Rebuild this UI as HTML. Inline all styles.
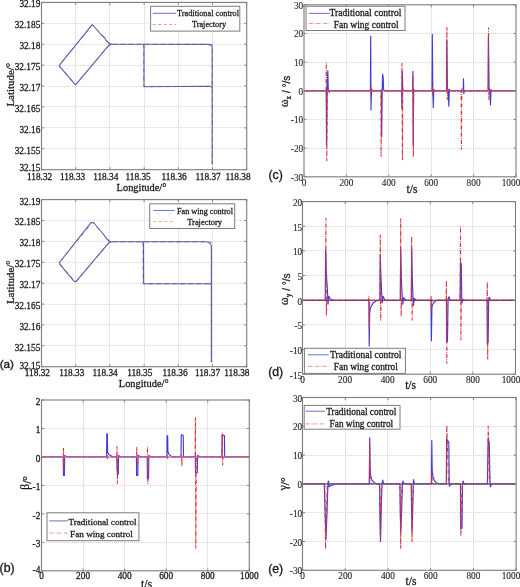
<!DOCTYPE html>
<html><head><meta charset="utf-8"><title>Figure</title>
<style>html,body{margin:0;padding:0;background:#fff;overflow:hidden;}svg{display:block;}</style>
</head><body>
<svg width="520" height="587" viewBox="0 0 520 587">
<rect width="520" height="587" fill="#fff"/>
<line x1="75.5" y1="3" x2="75.5" y2="169" stroke="#e6e6e6" stroke-width="1" />
<line x1="109.5" y1="3" x2="109.5" y2="169" stroke="#e6e6e6" stroke-width="1" />
<line x1="144.5" y1="3" x2="144.5" y2="169" stroke="#e6e6e6" stroke-width="1" />
<line x1="178.5" y1="3" x2="178.5" y2="169" stroke="#e6e6e6" stroke-width="1" />
<line x1="212.5" y1="3" x2="212.5" y2="169" stroke="#e6e6e6" stroke-width="1" />
<line x1="42" y1="23.5" x2="246" y2="23.5" stroke="#d6d6d6" stroke-width="1" stroke-dasharray="1 1" />
<line x1="42" y1="44.5" x2="246" y2="44.5" stroke="#d6d6d6" stroke-width="1" stroke-dasharray="1 1" />
<line x1="42" y1="65.5" x2="246" y2="65.5" stroke="#d6d6d6" stroke-width="1" stroke-dasharray="1 1" />
<line x1="42" y1="86.5" x2="246" y2="86.5" stroke="#d6d6d6" stroke-width="1" stroke-dasharray="1 1" />
<line x1="42" y1="106.5" x2="246" y2="106.5" stroke="#d6d6d6" stroke-width="1" stroke-dasharray="1 1" />
<line x1="42" y1="127.5" x2="246" y2="127.5" stroke="#d6d6d6" stroke-width="1" stroke-dasharray="1 1" />
<line x1="42" y1="148.5" x2="246" y2="148.5" stroke="#d6d6d6" stroke-width="1" stroke-dasharray="1 1" />
<polyline points="112,44.4 109.5,43.6 106,40.5 104.5,37.6 101,34.5 92.8,25 92,24.9 59.3,65.4 59.6,66.4 75.2,84.6 76,84.3 108.5,45.6 110.5,44.6 112,44.3 143.3,44.3 144,45 144,86.2 144.8,86.8 210.5,86.3 212.2,87.6" fill="none" stroke="#6a5aac" stroke-width="1.1" stroke-linejoin="round" />
<polyline points="143.5,44.3 208,44.4 211.6,45.5 212.2,47 212.2,164.5" fill="none" stroke="#6a5aac" stroke-width="1.1" stroke-linejoin="round" />
<polyline points="110,44.3 92.5,24.8 58.9,65.7 75.6,84.5 110,44.3 143.8,44.3 212.2,44.3 212.2,164" fill="none" stroke="#6a4a96" stroke-width="0.9" stroke-linejoin="round" stroke-dasharray="4 4" opacity="0.75"/>
<polyline points="143.8,44.3 143.8,86.4 212.2,86.4" fill="none" stroke="#6a4a96" stroke-width="0.9" stroke-linejoin="round" stroke-dasharray="4 4" opacity="0.75"/>
<rect x="41.5" y="2.4" width="205.2" height="167.3" fill="none" stroke="#7c7c7c" stroke-width="1.1"/>
<line x1="41.5" y1="169.7" x2="41.5" y2="167.2" stroke="#7c7c7c" stroke-width="0.9" />
<line x1="41.5" y1="2.4" x2="41.5" y2="4.9" stroke="#7c7c7c" stroke-width="0.9" />
<line x1="75.7" y1="169.7" x2="75.7" y2="167.2" stroke="#7c7c7c" stroke-width="0.9" />
<line x1="75.7" y1="2.4" x2="75.7" y2="4.9" stroke="#7c7c7c" stroke-width="0.9" />
<line x1="109.9" y1="169.7" x2="109.9" y2="167.2" stroke="#7c7c7c" stroke-width="0.9" />
<line x1="109.9" y1="2.4" x2="109.9" y2="4.9" stroke="#7c7c7c" stroke-width="0.9" />
<line x1="144.1" y1="169.7" x2="144.1" y2="167.2" stroke="#7c7c7c" stroke-width="0.9" />
<line x1="144.1" y1="2.4" x2="144.1" y2="4.9" stroke="#7c7c7c" stroke-width="0.9" />
<line x1="178.3" y1="169.7" x2="178.3" y2="167.2" stroke="#7c7c7c" stroke-width="0.9" />
<line x1="178.3" y1="2.4" x2="178.3" y2="4.9" stroke="#7c7c7c" stroke-width="0.9" />
<line x1="212.5" y1="169.7" x2="212.5" y2="167.2" stroke="#7c7c7c" stroke-width="0.9" />
<line x1="212.5" y1="2.4" x2="212.5" y2="4.9" stroke="#7c7c7c" stroke-width="0.9" />
<line x1="246.7" y1="169.7" x2="246.7" y2="167.2" stroke="#7c7c7c" stroke-width="0.9" />
<line x1="246.7" y1="2.4" x2="246.7" y2="4.9" stroke="#7c7c7c" stroke-width="0.9" />
<line x1="41.5" y1="2.4" x2="44" y2="2.4" stroke="#7c7c7c" stroke-width="0.9" />
<line x1="246.7" y1="2.4" x2="244.2" y2="2.4" stroke="#7c7c7c" stroke-width="0.9" />
<line x1="41.5" y1="23.31" x2="44" y2="23.31" stroke="#7c7c7c" stroke-width="0.9" />
<line x1="246.7" y1="23.31" x2="244.2" y2="23.31" stroke="#7c7c7c" stroke-width="0.9" />
<line x1="41.5" y1="44.22" x2="44" y2="44.22" stroke="#7c7c7c" stroke-width="0.9" />
<line x1="246.7" y1="44.22" x2="244.2" y2="44.22" stroke="#7c7c7c" stroke-width="0.9" />
<line x1="41.5" y1="65.14" x2="44" y2="65.14" stroke="#7c7c7c" stroke-width="0.9" />
<line x1="246.7" y1="65.14" x2="244.2" y2="65.14" stroke="#7c7c7c" stroke-width="0.9" />
<line x1="41.5" y1="86.05" x2="44" y2="86.05" stroke="#7c7c7c" stroke-width="0.9" />
<line x1="246.7" y1="86.05" x2="244.2" y2="86.05" stroke="#7c7c7c" stroke-width="0.9" />
<line x1="41.5" y1="106.96" x2="44" y2="106.96" stroke="#7c7c7c" stroke-width="0.9" />
<line x1="246.7" y1="106.96" x2="244.2" y2="106.96" stroke="#7c7c7c" stroke-width="0.9" />
<line x1="41.5" y1="127.88" x2="44" y2="127.88" stroke="#7c7c7c" stroke-width="0.9" />
<line x1="246.7" y1="127.88" x2="244.2" y2="127.88" stroke="#7c7c7c" stroke-width="0.9" />
<line x1="41.5" y1="148.79" x2="44" y2="148.79" stroke="#7c7c7c" stroke-width="0.9" />
<line x1="246.7" y1="148.79" x2="244.2" y2="148.79" stroke="#7c7c7c" stroke-width="0.9" />
<line x1="41.5" y1="169.7" x2="44" y2="169.7" stroke="#7c7c7c" stroke-width="0.9" />
<line x1="246.7" y1="169.7" x2="244.2" y2="169.7" stroke="#7c7c7c" stroke-width="0.9" />
<text x="40.3" y="7.4" font-size="9.3" font-family="'Liberation Serif','Times New Roman',serif" text-anchor="end" fill="#1a1a1a" stroke="#1a1a1a" stroke-width="0.28" >32.19</text>
<text x="40.3" y="28.31" font-size="9.3" font-family="'Liberation Serif','Times New Roman',serif" text-anchor="end" fill="#1a1a1a" stroke="#1a1a1a" stroke-width="0.28" >32.185</text>
<text x="40.3" y="49.22" font-size="9.3" font-family="'Liberation Serif','Times New Roman',serif" text-anchor="end" fill="#1a1a1a" stroke="#1a1a1a" stroke-width="0.28" >32.18</text>
<text x="40.3" y="70.14" font-size="9.3" font-family="'Liberation Serif','Times New Roman',serif" text-anchor="end" fill="#1a1a1a" stroke="#1a1a1a" stroke-width="0.28" >32.175</text>
<text x="40.3" y="91.05" font-size="9.3" font-family="'Liberation Serif','Times New Roman',serif" text-anchor="end" fill="#1a1a1a" stroke="#1a1a1a" stroke-width="0.28" >32.17</text>
<text x="40.3" y="111.96" font-size="9.3" font-family="'Liberation Serif','Times New Roman',serif" text-anchor="end" fill="#1a1a1a" stroke="#1a1a1a" stroke-width="0.28" >32.165</text>
<text x="40.3" y="132.88" font-size="9.3" font-family="'Liberation Serif','Times New Roman',serif" text-anchor="end" fill="#1a1a1a" stroke="#1a1a1a" stroke-width="0.28" >32.16</text>
<text x="40.3" y="153.79" font-size="9.3" font-family="'Liberation Serif','Times New Roman',serif" text-anchor="end" fill="#1a1a1a" stroke="#1a1a1a" stroke-width="0.28" >32.155</text>
<text x="40.3" y="170.7" font-size="9.3" font-family="'Liberation Serif','Times New Roman',serif" text-anchor="end" fill="#1a1a1a" stroke="#1a1a1a" stroke-width="0.28" >32.15</text>
<text x="39.6" y="179.9" font-size="9.3" font-family="'Liberation Serif','Times New Roman',serif" text-anchor="middle" fill="#1a1a1a" stroke="#1a1a1a" stroke-width="0.28" >118.32</text>
<text x="72.6" y="179.9" font-size="9.3" font-family="'Liberation Serif','Times New Roman',serif" text-anchor="middle" fill="#1a1a1a" stroke="#1a1a1a" stroke-width="0.28" >118.33</text>
<text x="105.8" y="179.9" font-size="9.3" font-family="'Liberation Serif','Times New Roman',serif" text-anchor="middle" fill="#1a1a1a" stroke="#1a1a1a" stroke-width="0.28" >118.34</text>
<text x="138.1" y="179.9" font-size="9.3" font-family="'Liberation Serif','Times New Roman',serif" text-anchor="middle" fill="#1a1a1a" stroke="#1a1a1a" stroke-width="0.28" >118.35</text>
<text x="174.1" y="179.9" font-size="9.3" font-family="'Liberation Serif','Times New Roman',serif" text-anchor="middle" fill="#1a1a1a" stroke="#1a1a1a" stroke-width="0.28" >118.36</text>
<text x="208.1" y="179.9" font-size="9.3" font-family="'Liberation Serif','Times New Roman',serif" text-anchor="middle" fill="#1a1a1a" stroke="#1a1a1a" stroke-width="0.28" >118.37</text>
<text x="238" y="179.9" font-size="9.3" font-family="'Liberation Serif','Times New Roman',serif" text-anchor="middle" fill="#1a1a1a" stroke="#1a1a1a" stroke-width="0.28" >118.38</text>
<text x="116.6" y="191.1" font-size="10.4" font-family="'Liberation Serif','Times New Roman',serif" text-anchor="start" fill="#1a1a1a" stroke="#1a1a1a" stroke-width="0.28" >Longitude/°</text>
<text x="14" y="84.7" font-size="10.9" font-family="'Liberation Serif','Times New Roman',serif" text-anchor="middle" fill="#1a1a1a" stroke="#1a1a1a" stroke-width="0.28" transform="rotate(-90 14 84.7)" >Latitude/°</text>
<rect x="150.6" y="6.3" width="89.2" height="24.8" fill="#fff" stroke="#7c7c7c" stroke-width="1.0"/>
<line x1="152.7" y1="13.3" x2="176.3" y2="13.3" stroke="#3c3cdc" stroke-width="1.1" opacity="0.7"/>
<line x1="152.7" y1="24.5" x2="176.3" y2="24.5" stroke="#dc2c3c" stroke-width="1.0" stroke-dasharray="3 2.5" opacity="0.5"/>
<text x="177" y="16.3" font-size="8.8" font-family="'Liberation Serif','Times New Roman',serif" text-anchor="start" fill="#1a1a1a" stroke="#1a1a1a" stroke-width="0.28" textLength="62" lengthAdjust="spacingAndGlyphs">Traditional control</text>
<text x="191.9" y="27.4" font-size="8.3" font-family="'Liberation Serif','Times New Roman',serif" text-anchor="start" fill="#1a1a1a" stroke="#1a1a1a" stroke-width="0.28" >Trajectory</text>
<line x1="75.5" y1="200" x2="75.5" y2="366" stroke="#e6e6e6" stroke-width="1" />
<line x1="109.5" y1="200" x2="109.5" y2="366" stroke="#e6e6e6" stroke-width="1" />
<line x1="144.5" y1="200" x2="144.5" y2="366" stroke="#e6e6e6" stroke-width="1" />
<line x1="178.5" y1="200" x2="178.5" y2="366" stroke="#e6e6e6" stroke-width="1" />
<line x1="212.5" y1="200" x2="212.5" y2="366" stroke="#e6e6e6" stroke-width="1" />
<line x1="42" y1="220.5" x2="246" y2="220.5" stroke="#d6d6d6" stroke-width="1" stroke-dasharray="1 1" />
<line x1="42" y1="241.5" x2="246" y2="241.5" stroke="#d6d6d6" stroke-width="1" stroke-dasharray="1 1" />
<line x1="42" y1="262.5" x2="246" y2="262.5" stroke="#d6d6d6" stroke-width="1" stroke-dasharray="1 1" />
<line x1="42" y1="283.5" x2="246" y2="283.5" stroke="#d6d6d6" stroke-width="1" stroke-dasharray="1 1" />
<line x1="42" y1="304.5" x2="246" y2="304.5" stroke="#d6d6d6" stroke-width="1" stroke-dasharray="1 1" />
<line x1="42" y1="324.5" x2="246" y2="324.5" stroke="#d6d6d6" stroke-width="1" stroke-dasharray="1 1" />
<line x1="42" y1="345.5" x2="246" y2="345.5" stroke="#d6d6d6" stroke-width="1" stroke-dasharray="1 1" />
<polyline points="112,241.9 109.5,241.3 107,239.3 104,235 94,223 92.5,222.3 91,222.7 60.6,261 59.6,262.1 60,264.3 73.5,280.7 75.2,281.7 76.8,280.7 108.5,243.1 110.5,242 112,241.8 142.4,241.8 143.4,243 143.6,282.8 144.6,283.8 210.5,283.8 211.4,285.3" fill="none" stroke="#6a5aac" stroke-width="1.1" stroke-linejoin="round" />
<polyline points="142.5,241.8 206.5,241.8 209.5,243 211.4,245.5 211.4,362.5" fill="none" stroke="#6a5aac" stroke-width="1.1" stroke-linejoin="round" />
<polyline points="110,241.8 92.5,222.3 58.9,263.2 75.6,282 110,241.8 143.8,241.8 211.3,241.8 211.3,361.5" fill="none" stroke="#6a4a96" stroke-width="0.9" stroke-linejoin="round" stroke-dasharray="4 4" opacity="0.75"/>
<polyline points="143,241.8 143,283.9 211.4,283.9" fill="none" stroke="#6a4a96" stroke-width="0.9" stroke-linejoin="round" stroke-dasharray="4 4" opacity="0.75"/>
<rect x="41.5" y="199.6" width="205.2" height="167.1" fill="none" stroke="#7c7c7c" stroke-width="1.1"/>
<line x1="41.5" y1="366.7" x2="41.5" y2="364.2" stroke="#7c7c7c" stroke-width="0.9" />
<line x1="41.5" y1="199.6" x2="41.5" y2="202.1" stroke="#7c7c7c" stroke-width="0.9" />
<line x1="75.7" y1="366.7" x2="75.7" y2="364.2" stroke="#7c7c7c" stroke-width="0.9" />
<line x1="75.7" y1="199.6" x2="75.7" y2="202.1" stroke="#7c7c7c" stroke-width="0.9" />
<line x1="109.9" y1="366.7" x2="109.9" y2="364.2" stroke="#7c7c7c" stroke-width="0.9" />
<line x1="109.9" y1="199.6" x2="109.9" y2="202.1" stroke="#7c7c7c" stroke-width="0.9" />
<line x1="144.1" y1="366.7" x2="144.1" y2="364.2" stroke="#7c7c7c" stroke-width="0.9" />
<line x1="144.1" y1="199.6" x2="144.1" y2="202.1" stroke="#7c7c7c" stroke-width="0.9" />
<line x1="178.3" y1="366.7" x2="178.3" y2="364.2" stroke="#7c7c7c" stroke-width="0.9" />
<line x1="178.3" y1="199.6" x2="178.3" y2="202.1" stroke="#7c7c7c" stroke-width="0.9" />
<line x1="212.5" y1="366.7" x2="212.5" y2="364.2" stroke="#7c7c7c" stroke-width="0.9" />
<line x1="212.5" y1="199.6" x2="212.5" y2="202.1" stroke="#7c7c7c" stroke-width="0.9" />
<line x1="246.7" y1="366.7" x2="246.7" y2="364.2" stroke="#7c7c7c" stroke-width="0.9" />
<line x1="246.7" y1="199.6" x2="246.7" y2="202.1" stroke="#7c7c7c" stroke-width="0.9" />
<line x1="41.5" y1="199.6" x2="44" y2="199.6" stroke="#7c7c7c" stroke-width="0.9" />
<line x1="246.7" y1="199.6" x2="244.2" y2="199.6" stroke="#7c7c7c" stroke-width="0.9" />
<line x1="41.5" y1="220.49" x2="44" y2="220.49" stroke="#7c7c7c" stroke-width="0.9" />
<line x1="246.7" y1="220.49" x2="244.2" y2="220.49" stroke="#7c7c7c" stroke-width="0.9" />
<line x1="41.5" y1="241.38" x2="44" y2="241.38" stroke="#7c7c7c" stroke-width="0.9" />
<line x1="246.7" y1="241.38" x2="244.2" y2="241.38" stroke="#7c7c7c" stroke-width="0.9" />
<line x1="41.5" y1="262.26" x2="44" y2="262.26" stroke="#7c7c7c" stroke-width="0.9" />
<line x1="246.7" y1="262.26" x2="244.2" y2="262.26" stroke="#7c7c7c" stroke-width="0.9" />
<line x1="41.5" y1="283.15" x2="44" y2="283.15" stroke="#7c7c7c" stroke-width="0.9" />
<line x1="246.7" y1="283.15" x2="244.2" y2="283.15" stroke="#7c7c7c" stroke-width="0.9" />
<line x1="41.5" y1="304.04" x2="44" y2="304.04" stroke="#7c7c7c" stroke-width="0.9" />
<line x1="246.7" y1="304.04" x2="244.2" y2="304.04" stroke="#7c7c7c" stroke-width="0.9" />
<line x1="41.5" y1="324.92" x2="44" y2="324.92" stroke="#7c7c7c" stroke-width="0.9" />
<line x1="246.7" y1="324.92" x2="244.2" y2="324.92" stroke="#7c7c7c" stroke-width="0.9" />
<line x1="41.5" y1="345.81" x2="44" y2="345.81" stroke="#7c7c7c" stroke-width="0.9" />
<line x1="246.7" y1="345.81" x2="244.2" y2="345.81" stroke="#7c7c7c" stroke-width="0.9" />
<line x1="41.5" y1="366.7" x2="44" y2="366.7" stroke="#7c7c7c" stroke-width="0.9" />
<line x1="246.7" y1="366.7" x2="244.2" y2="366.7" stroke="#7c7c7c" stroke-width="0.9" />
<text x="40.3" y="204.6" font-size="9.3" font-family="'Liberation Serif','Times New Roman',serif" text-anchor="end" fill="#1a1a1a" stroke="#1a1a1a" stroke-width="0.28" >32.19</text>
<text x="40.3" y="225.49" font-size="9.3" font-family="'Liberation Serif','Times New Roman',serif" text-anchor="end" fill="#1a1a1a" stroke="#1a1a1a" stroke-width="0.28" >32.185</text>
<text x="40.3" y="246.38" font-size="9.3" font-family="'Liberation Serif','Times New Roman',serif" text-anchor="end" fill="#1a1a1a" stroke="#1a1a1a" stroke-width="0.28" >32.18</text>
<text x="40.3" y="267.26" font-size="9.3" font-family="'Liberation Serif','Times New Roman',serif" text-anchor="end" fill="#1a1a1a" stroke="#1a1a1a" stroke-width="0.28" >32.175</text>
<text x="40.3" y="288.15" font-size="9.3" font-family="'Liberation Serif','Times New Roman',serif" text-anchor="end" fill="#1a1a1a" stroke="#1a1a1a" stroke-width="0.28" >32.17</text>
<text x="40.3" y="309.04" font-size="9.3" font-family="'Liberation Serif','Times New Roman',serif" text-anchor="end" fill="#1a1a1a" stroke="#1a1a1a" stroke-width="0.28" >32.165</text>
<text x="40.3" y="329.92" font-size="9.3" font-family="'Liberation Serif','Times New Roman',serif" text-anchor="end" fill="#1a1a1a" stroke="#1a1a1a" stroke-width="0.28" >32.16</text>
<text x="40.3" y="350.81" font-size="9.3" font-family="'Liberation Serif','Times New Roman',serif" text-anchor="end" fill="#1a1a1a" stroke="#1a1a1a" stroke-width="0.28" >32.155</text>
<text x="40.3" y="368.7" font-size="9.3" font-family="'Liberation Serif','Times New Roman',serif" text-anchor="end" fill="#1a1a1a" stroke="#1a1a1a" stroke-width="0.28" >32.15</text>
<text x="37.4" y="376.2" font-size="9.3" font-family="'Liberation Serif','Times New Roman',serif" text-anchor="middle" fill="#1a1a1a" stroke="#1a1a1a" stroke-width="0.28" >118.32</text>
<text x="71.8" y="376.2" font-size="9.3" font-family="'Liberation Serif','Times New Roman',serif" text-anchor="middle" fill="#1a1a1a" stroke="#1a1a1a" stroke-width="0.28" >118.33</text>
<text x="105.1" y="376.2" font-size="9.3" font-family="'Liberation Serif','Times New Roman',serif" text-anchor="middle" fill="#1a1a1a" stroke="#1a1a1a" stroke-width="0.28" >118.34</text>
<text x="139.8" y="376.2" font-size="9.3" font-family="'Liberation Serif','Times New Roman',serif" text-anchor="middle" fill="#1a1a1a" stroke="#1a1a1a" stroke-width="0.28" >118.35</text>
<text x="175" y="376.2" font-size="9.3" font-family="'Liberation Serif','Times New Roman',serif" text-anchor="middle" fill="#1a1a1a" stroke="#1a1a1a" stroke-width="0.28" >118.36</text>
<text x="207.5" y="376.2" font-size="9.3" font-family="'Liberation Serif','Times New Roman',serif" text-anchor="middle" fill="#1a1a1a" stroke="#1a1a1a" stroke-width="0.28" >118.37</text>
<text x="236.9" y="376.2" font-size="9.3" font-family="'Liberation Serif','Times New Roman',serif" text-anchor="middle" fill="#1a1a1a" stroke="#1a1a1a" stroke-width="0.28" >118.38</text>
<text x="118.8" y="386.5" font-size="10.4" font-family="'Liberation Serif','Times New Roman',serif" text-anchor="start" fill="#1a1a1a" stroke="#1a1a1a" stroke-width="0.28" >Longitude/°</text>
<text x="14" y="282.2" font-size="10.9" font-family="'Liberation Serif','Times New Roman',serif" text-anchor="middle" fill="#1a1a1a" stroke="#1a1a1a" stroke-width="0.28" transform="rotate(-90 14 282.2)" >Latitude/°</text>
<rect x="149.7" y="203.8" width="85" height="24.7" fill="#fff" stroke="#7c7c7c" stroke-width="1.0"/>
<line x1="153.4" y1="210.5" x2="174.6" y2="210.5" stroke="#3c3cdc" stroke-width="1.1" opacity="0.7"/>
<line x1="153.4" y1="221.5" x2="174.6" y2="221.5" stroke="#e08040" stroke-width="1.0" stroke-dasharray="3 2.5" opacity="0.6"/>
<text x="177" y="213.7" font-size="8.8" font-family="'Liberation Serif','Times New Roman',serif" text-anchor="start" fill="#1a1a1a" stroke="#1a1a1a" stroke-width="0.28" textLength="56" lengthAdjust="spacingAndGlyphs">Fan wing control</text>
<text x="187.3" y="224.5" font-size="8.4" font-family="'Liberation Serif','Times New Roman',serif" text-anchor="start" fill="#1a1a1a" stroke="#1a1a1a" stroke-width="0.28" >Trajectory</text>
<text x="6.8" y="368.2" font-size="11.7" font-family="'Liberation Sans',Arial,sans-serif" text-anchor="middle" fill="#1a1a1a" stroke="#1a1a1a" stroke-width="0.35" >(a)</text>
<line x1="83.5" y1="401" x2="83.5" y2="570" stroke="#e6e6e6" stroke-width="1" />
<line x1="124.5" y1="401" x2="124.5" y2="570" stroke="#e6e6e6" stroke-width="1" />
<line x1="166.5" y1="401" x2="166.5" y2="570" stroke="#e6e6e6" stroke-width="1" />
<line x1="207.5" y1="401" x2="207.5" y2="570" stroke="#e6e6e6" stroke-width="1" />
<line x1="42" y1="428.5" x2="249" y2="428.5" stroke="#d6d6d6" stroke-width="1" stroke-dasharray="1 1" />
<line x1="42" y1="456.5" x2="249" y2="456.5" stroke="#d6d6d6" stroke-width="1" stroke-dasharray="1 1" />
<line x1="42" y1="485.5" x2="249" y2="485.5" stroke="#d6d6d6" stroke-width="1" stroke-dasharray="1 1" />
<line x1="42" y1="513.5" x2="249" y2="513.5" stroke="#d6d6d6" stroke-width="1" stroke-dasharray="1 1" />
<line x1="42" y1="542.5" x2="249" y2="542.5" stroke="#d6d6d6" stroke-width="1" stroke-dasharray="1 1" />
<clipPath id="c41400"><rect x="41.5" y="400" width="207.8" height="170.8"/></clipPath>
<g clip-path="url(#c41400)">
<polyline points="42,456.93 63.2,456.93 63.5,475.44 64.4,475.44 64.7,455.51 66,456.36 67,456.93 106.6,456.93 106.8,433.59 107.4,434.16 107.6,452.66 109,454.66 112,456.36 114,456.93 116.8,456.93 117.1,469.74 117.6,474.58 118.3,474.01 118.6,455.51 119.5,456.36 120.5,456.93 136.4,456.93 136.6,475.44 137.8,475.44 138.1,455.23 139.5,456.36 140.5,456.93 147.2,456.93 147.4,479.14 148.6,478.28 148.9,455.51 150,456.36 151,456.93 166.9,456.93 167.1,435.58 167.7,436.15 167.9,451.81 169,454.37 171,456.08 173,456.93 181,456.93 181.2,434.73 183.2,435.3 183.5,456.93 195.3,456.93 195.5,472.59 197.3,472.59 197.6,455.23 199,456.36 200,456.93 221.9,456.93 222.1,435.01 224.4,435.58 224.7,456.93 248.8,456.93" fill="none" stroke="#3c3cdc" stroke-width="1.15" stroke-linejoin="round" />
<polyline points="42,456.93 63.2,456.93 63.5,448.39 63.9,471.17 64.3,455.51 65,456.93 106.8,456.93 107.1,453.52 107.5,458.64 108,456.93 116.7,456.93 117,446.4 117.4,483.41 117.8,456.08 118.3,456.93 136.5,456.93 136.8,447.54 137.2,466.9 137.6,456.93 147.2,456.93 147.5,446.97 147.9,483.41 148.3,455.51 149,456.93 166.9,456.93 167.2,454.09 167.6,458.36 168,456.93 181.2,456.93 181.5,454.66 181.9,465.47 182.3,456.93 195.1,456.93 195.4,417.65 195.8,548.03 196.3,455.51 197,456.93 222,456.93 222.3,432.74 222.7,464.9 223.1,456.93 248.8,456.93" fill="none" stroke="#dc2c3c" stroke-width="1.05" stroke-linejoin="round" stroke-dasharray="4 1.3 0.7 1.3" />
<line x1="41.5" y1="456.93" x2="249.3" y2="456.93" stroke="#c47898" stroke-width="1.1" />
</g>
<rect x="41.5" y="400" width="207.8" height="170.8" fill="none" stroke="#7c7c7c" stroke-width="1.1"/>
<line x1="41.5" y1="570.8" x2="41.5" y2="568.3" stroke="#7c7c7c" stroke-width="0.9" />
<line x1="41.5" y1="400" x2="41.5" y2="402.5" stroke="#7c7c7c" stroke-width="0.9" />
<line x1="83.06" y1="570.8" x2="83.06" y2="568.3" stroke="#7c7c7c" stroke-width="0.9" />
<line x1="83.06" y1="400" x2="83.06" y2="402.5" stroke="#7c7c7c" stroke-width="0.9" />
<line x1="124.62" y1="570.8" x2="124.62" y2="568.3" stroke="#7c7c7c" stroke-width="0.9" />
<line x1="124.62" y1="400" x2="124.62" y2="402.5" stroke="#7c7c7c" stroke-width="0.9" />
<line x1="166.18" y1="570.8" x2="166.18" y2="568.3" stroke="#7c7c7c" stroke-width="0.9" />
<line x1="166.18" y1="400" x2="166.18" y2="402.5" stroke="#7c7c7c" stroke-width="0.9" />
<line x1="207.74" y1="570.8" x2="207.74" y2="568.3" stroke="#7c7c7c" stroke-width="0.9" />
<line x1="207.74" y1="400" x2="207.74" y2="402.5" stroke="#7c7c7c" stroke-width="0.9" />
<line x1="249.3" y1="570.8" x2="249.3" y2="568.3" stroke="#7c7c7c" stroke-width="0.9" />
<line x1="249.3" y1="400" x2="249.3" y2="402.5" stroke="#7c7c7c" stroke-width="0.9" />
<line x1="41.5" y1="400" x2="44" y2="400" stroke="#7c7c7c" stroke-width="0.9" />
<line x1="249.3" y1="400" x2="246.8" y2="400" stroke="#7c7c7c" stroke-width="0.9" />
<line x1="41.5" y1="428.47" x2="44" y2="428.47" stroke="#7c7c7c" stroke-width="0.9" />
<line x1="249.3" y1="428.47" x2="246.8" y2="428.47" stroke="#7c7c7c" stroke-width="0.9" />
<line x1="41.5" y1="456.93" x2="44" y2="456.93" stroke="#7c7c7c" stroke-width="0.9" />
<line x1="249.3" y1="456.93" x2="246.8" y2="456.93" stroke="#7c7c7c" stroke-width="0.9" />
<line x1="41.5" y1="485.4" x2="44" y2="485.4" stroke="#7c7c7c" stroke-width="0.9" />
<line x1="249.3" y1="485.4" x2="246.8" y2="485.4" stroke="#7c7c7c" stroke-width="0.9" />
<line x1="41.5" y1="513.87" x2="44" y2="513.87" stroke="#7c7c7c" stroke-width="0.9" />
<line x1="249.3" y1="513.87" x2="246.8" y2="513.87" stroke="#7c7c7c" stroke-width="0.9" />
<line x1="41.5" y1="542.33" x2="44" y2="542.33" stroke="#7c7c7c" stroke-width="0.9" />
<line x1="249.3" y1="542.33" x2="246.8" y2="542.33" stroke="#7c7c7c" stroke-width="0.9" />
<line x1="41.5" y1="570.8" x2="44" y2="570.8" stroke="#7c7c7c" stroke-width="0.9" />
<line x1="249.3" y1="570.8" x2="246.8" y2="570.8" stroke="#7c7c7c" stroke-width="0.9" />
<text x="40.3" y="404.8" font-size="9.3" font-family="'Liberation Serif','Times New Roman',serif" text-anchor="end" fill="#1a1a1a" stroke="#1a1a1a" stroke-width="0.28" >2</text>
<text x="40.3" y="433.27" font-size="9.3" font-family="'Liberation Serif','Times New Roman',serif" text-anchor="end" fill="#1a1a1a" stroke="#1a1a1a" stroke-width="0.28" >1</text>
<text x="40.3" y="461.73" font-size="9.3" font-family="'Liberation Serif','Times New Roman',serif" text-anchor="end" fill="#1a1a1a" stroke="#1a1a1a" stroke-width="0.28" >0</text>
<text x="40.3" y="490.2" font-size="9.3" font-family="'Liberation Serif','Times New Roman',serif" text-anchor="end" fill="#1a1a1a" stroke="#1a1a1a" stroke-width="0.28" >-1</text>
<text x="40.3" y="518.67" font-size="9.3" font-family="'Liberation Serif','Times New Roman',serif" text-anchor="end" fill="#1a1a1a" stroke="#1a1a1a" stroke-width="0.28" >-2</text>
<text x="40.3" y="547.13" font-size="9.3" font-family="'Liberation Serif','Times New Roman',serif" text-anchor="end" fill="#1a1a1a" stroke="#1a1a1a" stroke-width="0.28" >-3</text>
<text x="40.3" y="573.2" font-size="9.3" font-family="'Liberation Serif','Times New Roman',serif" text-anchor="end" fill="#1a1a1a" stroke="#1a1a1a" stroke-width="0.28" >-4</text>
<text x="41.5" y="579.2" font-size="9.3" font-family="'Liberation Serif','Times New Roman',serif" text-anchor="middle" fill="#1a1a1a" stroke="#1a1a1a" stroke-width="0.28" >0</text>
<text x="83.06" y="579.2" font-size="9.3" font-family="'Liberation Serif','Times New Roman',serif" text-anchor="middle" fill="#1a1a1a" stroke="#1a1a1a" stroke-width="0.28" >200</text>
<text x="124.62" y="579.2" font-size="9.3" font-family="'Liberation Serif','Times New Roman',serif" text-anchor="middle" fill="#1a1a1a" stroke="#1a1a1a" stroke-width="0.28" >400</text>
<text x="166.18" y="579.2" font-size="9.3" font-family="'Liberation Serif','Times New Roman',serif" text-anchor="middle" fill="#1a1a1a" stroke="#1a1a1a" stroke-width="0.28" >600</text>
<text x="207.74" y="579.2" font-size="9.3" font-family="'Liberation Serif','Times New Roman',serif" text-anchor="middle" fill="#1a1a1a" stroke="#1a1a1a" stroke-width="0.28" >800</text>
<text x="249.3" y="579.2" font-size="9.3" font-family="'Liberation Serif','Times New Roman',serif" text-anchor="middle" fill="#1a1a1a" stroke="#1a1a1a" stroke-width="0.28" >1000</text>
<text x="146.6" y="587.6" font-size="12" font-family="'Liberation Serif','Times New Roman',serif" text-anchor="middle" fill="#1a1a1a" stroke="#1a1a1a" stroke-width="0.28" >t/s</text>
<text x="29.5" y="482.9" font-size="11.5" font-family="'Liberation Serif','Times New Roman',serif" text-anchor="middle" fill="#1a1a1a" stroke="#1a1a1a" stroke-width="0.28" transform="rotate(-90 29.5 482.9)" >β<tspan dy="1.4">/°</tspan></text>
<rect x="47" y="512.8" width="91.9" height="27.9" fill="#fff" stroke="#7c7c7c" stroke-width="1.0"/>
<line x1="49.3" y1="520.9" x2="67.8" y2="520.9" stroke="#3c3cdc" stroke-width="1.1" opacity="0.7"/>
<line x1="49.3" y1="533.1" x2="67.8" y2="533.1" stroke="#dc2c3c" stroke-width="1.0" stroke-dasharray="4 1.3 0.7 1.3" opacity="0.5"/>
<text x="68.5" y="524.7" font-size="9.1" font-family="'Liberation Serif','Times New Roman',serif" text-anchor="start" fill="#1a1a1a" stroke="#1a1a1a" stroke-width="0.28" >Traditional control</text>
<text x="70.1" y="536.9" font-size="9.2" font-family="'Liberation Serif','Times New Roman',serif" text-anchor="start" fill="#1a1a1a" stroke="#1a1a1a" stroke-width="0.28" >Fan wing control</text>
<text x="7.1" y="571.6" font-size="12.3" font-family="'Liberation Sans',Arial,sans-serif" text-anchor="middle" fill="#1a1a1a" stroke="#1a1a1a" stroke-width="0.35" >(b)</text>
<line x1="346.5" y1="5" x2="346.5" y2="176" stroke="#e6e6e6" stroke-width="1" />
<line x1="388.5" y1="5" x2="388.5" y2="176" stroke="#e6e6e6" stroke-width="1" />
<line x1="431.5" y1="5" x2="431.5" y2="176" stroke="#e6e6e6" stroke-width="1" />
<line x1="473.5" y1="5" x2="473.5" y2="176" stroke="#e6e6e6" stroke-width="1" />
<line x1="305" y1="33.5" x2="516" y2="33.5" stroke="#d6d6d6" stroke-width="1" stroke-dasharray="1 1" />
<line x1="305" y1="62.5" x2="516" y2="62.5" stroke="#d6d6d6" stroke-width="1" stroke-dasharray="1 1" />
<line x1="305" y1="90.5" x2="516" y2="90.5" stroke="#d6d6d6" stroke-width="1" stroke-dasharray="1 1" />
<line x1="305" y1="119.5" x2="516" y2="119.5" stroke="#d6d6d6" stroke-width="1" stroke-dasharray="1 1" />
<line x1="305" y1="148.5" x2="516" y2="148.5" stroke="#d6d6d6" stroke-width="1" stroke-dasharray="1 1" />
<clipPath id="c3044"><rect x="304" y="4.8" width="212" height="172"/></clipPath>
<g clip-path="url(#c3044)">
<polyline points="304.5,90.8 326.2,90.8 326.5,144.41 327.2,85.07 327.8,70.73 328.3,89.37 329,92.23 330,90.8 370.4,90.8 370.7,36.33 371,110.01 371.5,89.08 372.5,90.8 381.4,90.8 381.7,136.67 382.2,90.8 382.6,74.17 383.2,77.9 383.6,89.37 384.5,90.8 401.6,90.8 401.9,108 402.3,71.31 402.8,89.37 404,90.8 412.6,90.8 412.9,71.31 413.2,145.27 413.6,89.37 414.5,90.8 432,90.8 432.3,34.33 432.8,89.37 433.3,107.43 433.8,89.65 434.5,90.8 446.5,90.8 446.8,40.63 447.4,87.93 448.2,89.94 448.8,106.28 449.3,89.65 450,90.8 463.2,90.8 463.5,78.76 463.8,93.67 464.3,90.8 488.1,90.8 488.4,36.33 489,87.93 489.8,89.94 490.5,104.85 491,89.65 491.8,90.8 515.5,90.8" fill="none" stroke="#3c3cdc" stroke-width="1.15" stroke-linejoin="round" />
<polyline points="304.5,90.8 326,90.8 326.3,62.99 326.8,160.75 327.3,89.37 328,90.8 370.5,90.8 370.8,85.07 371.1,96.53 371.5,90.8 380.8,90.8 381.1,156.16 381.5,89.37 382,90.8 401.7,90.8 402,63.28 402.4,159.6 402.8,90.8 412.7,90.8 413,76.47 413.3,156.16 413.7,90.8 432.1,90.8 432.4,86.5 432.7,95.1 433.1,90.8 446.6,90.8 446.9,27.45 447.3,99.4 447.7,90.8 461.1,90.8 461.4,149.28 461.8,87.93 462.2,90.8 488.2,90.8 488.5,27.73 488.9,99.4 489.3,90.8 515.5,90.8" fill="none" stroke="#dc2c3c" stroke-width="1.05" stroke-linejoin="round" stroke-dasharray="4 1.3 0.7 1.3" />
<line x1="304" y1="90.8" x2="516" y2="90.8" stroke="#c44a5c" stroke-width="1.1" />
</g>
<rect x="304" y="4.8" width="212" height="172" fill="none" stroke="#7c7c7c" stroke-width="1.1"/>
<line x1="304" y1="176.8" x2="304" y2="174.3" stroke="#7c7c7c" stroke-width="0.9" />
<line x1="304" y1="4.8" x2="304" y2="7.3" stroke="#7c7c7c" stroke-width="0.9" />
<line x1="346.4" y1="176.8" x2="346.4" y2="174.3" stroke="#7c7c7c" stroke-width="0.9" />
<line x1="346.4" y1="4.8" x2="346.4" y2="7.3" stroke="#7c7c7c" stroke-width="0.9" />
<line x1="388.8" y1="176.8" x2="388.8" y2="174.3" stroke="#7c7c7c" stroke-width="0.9" />
<line x1="388.8" y1="4.8" x2="388.8" y2="7.3" stroke="#7c7c7c" stroke-width="0.9" />
<line x1="431.2" y1="176.8" x2="431.2" y2="174.3" stroke="#7c7c7c" stroke-width="0.9" />
<line x1="431.2" y1="4.8" x2="431.2" y2="7.3" stroke="#7c7c7c" stroke-width="0.9" />
<line x1="473.6" y1="176.8" x2="473.6" y2="174.3" stroke="#7c7c7c" stroke-width="0.9" />
<line x1="473.6" y1="4.8" x2="473.6" y2="7.3" stroke="#7c7c7c" stroke-width="0.9" />
<line x1="516" y1="176.8" x2="516" y2="174.3" stroke="#7c7c7c" stroke-width="0.9" />
<line x1="516" y1="4.8" x2="516" y2="7.3" stroke="#7c7c7c" stroke-width="0.9" />
<line x1="304" y1="4.8" x2="306.5" y2="4.8" stroke="#7c7c7c" stroke-width="0.9" />
<line x1="516" y1="4.8" x2="513.5" y2="4.8" stroke="#7c7c7c" stroke-width="0.9" />
<line x1="304" y1="33.47" x2="306.5" y2="33.47" stroke="#7c7c7c" stroke-width="0.9" />
<line x1="516" y1="33.47" x2="513.5" y2="33.47" stroke="#7c7c7c" stroke-width="0.9" />
<line x1="304" y1="62.13" x2="306.5" y2="62.13" stroke="#7c7c7c" stroke-width="0.9" />
<line x1="516" y1="62.13" x2="513.5" y2="62.13" stroke="#7c7c7c" stroke-width="0.9" />
<line x1="304" y1="90.8" x2="306.5" y2="90.8" stroke="#7c7c7c" stroke-width="0.9" />
<line x1="516" y1="90.8" x2="513.5" y2="90.8" stroke="#7c7c7c" stroke-width="0.9" />
<line x1="304" y1="119.47" x2="306.5" y2="119.47" stroke="#7c7c7c" stroke-width="0.9" />
<line x1="516" y1="119.47" x2="513.5" y2="119.47" stroke="#7c7c7c" stroke-width="0.9" />
<line x1="304" y1="148.13" x2="306.5" y2="148.13" stroke="#7c7c7c" stroke-width="0.9" />
<line x1="516" y1="148.13" x2="513.5" y2="148.13" stroke="#7c7c7c" stroke-width="0.9" />
<line x1="304" y1="176.8" x2="306.5" y2="176.8" stroke="#7c7c7c" stroke-width="0.9" />
<line x1="516" y1="176.8" x2="513.5" y2="176.8" stroke="#7c7c7c" stroke-width="0.9" />
<text x="303.2" y="8.5" font-size="9.3" font-family="'Liberation Serif','Times New Roman',serif" text-anchor="end" fill="#2c2c2c" stroke="#2c2c2c" stroke-width="0.12" >30</text>
<text x="303.2" y="37.17" font-size="9.3" font-family="'Liberation Serif','Times New Roman',serif" text-anchor="end" fill="#2c2c2c" stroke="#2c2c2c" stroke-width="0.12" >20</text>
<text x="303.2" y="65.83" font-size="9.3" font-family="'Liberation Serif','Times New Roman',serif" text-anchor="end" fill="#2c2c2c" stroke="#2c2c2c" stroke-width="0.12" >10</text>
<text x="303.2" y="94.5" font-size="9.3" font-family="'Liberation Serif','Times New Roman',serif" text-anchor="end" fill="#2c2c2c" stroke="#2c2c2c" stroke-width="0.12" >0</text>
<text x="303.2" y="123.17" font-size="9.3" font-family="'Liberation Serif','Times New Roman',serif" text-anchor="end" fill="#2c2c2c" stroke="#2c2c2c" stroke-width="0.12" >-10</text>
<text x="303.2" y="151.83" font-size="9.3" font-family="'Liberation Serif','Times New Roman',serif" text-anchor="end" fill="#2c2c2c" stroke="#2c2c2c" stroke-width="0.12" >-20</text>
<text x="303.2" y="180.5" font-size="9.3" font-family="'Liberation Serif','Times New Roman',serif" text-anchor="end" fill="#2c2c2c" stroke="#2c2c2c" stroke-width="0.12" >-30</text>
<text x="304" y="185.5" font-size="9.3" font-family="'Liberation Serif','Times New Roman',serif" text-anchor="middle" fill="#2c2c2c" stroke="#2c2c2c" stroke-width="0.12" >0</text>
<text x="346.4" y="185.5" font-size="9.3" font-family="'Liberation Serif','Times New Roman',serif" text-anchor="middle" fill="#2c2c2c" stroke="#2c2c2c" stroke-width="0.12" >200</text>
<text x="388.8" y="185.5" font-size="9.3" font-family="'Liberation Serif','Times New Roman',serif" text-anchor="middle" fill="#2c2c2c" stroke="#2c2c2c" stroke-width="0.12" >400</text>
<text x="431.2" y="185.5" font-size="9.3" font-family="'Liberation Serif','Times New Roman',serif" text-anchor="middle" fill="#2c2c2c" stroke="#2c2c2c" stroke-width="0.12" >600</text>
<text x="473.6" y="185.5" font-size="9.3" font-family="'Liberation Serif','Times New Roman',serif" text-anchor="middle" fill="#2c2c2c" stroke="#2c2c2c" stroke-width="0.12" >800</text>
<text x="511" y="185.5" font-size="9.3" font-family="'Liberation Serif','Times New Roman',serif" text-anchor="middle" fill="#2c2c2c" stroke="#2c2c2c" stroke-width="0.12" >1000</text>
<text x="412" y="193.3" font-size="11.5" font-family="'Liberation Serif','Times New Roman',serif" text-anchor="middle" fill="#1a1a1a" stroke="#1a1a1a" stroke-width="0.28" >t/s</text>
<text x="288.3" y="91.3" font-size="10" font-family="'Liberation Sans',Arial,sans-serif" text-anchor="middle" fill="#1a1a1a" stroke="#1a1a1a" stroke-width="0.28" transform="rotate(-90 288.3 91.3)"><tspan font-family="'Liberation Serif','Times New Roman',serif" font-size="11.5">ω</tspan><tspan font-family="'Liberation Serif','Times New Roman',serif" font-size="7.2" dy="3">x</tspan><tspan dy="-1.6" font-size="10"> / °/s</tspan></text>
<rect x="306" y="6.3" width="99" height="24.2" fill="#fff" stroke="#7c7c7c" stroke-width="1.0"/>
<line x1="308.8" y1="13.4" x2="329.9" y2="13.4" stroke="#3c3cdc" stroke-width="1.1" opacity="0.7"/>
<line x1="308.8" y1="23.5" x2="329.9" y2="23.5" stroke="#dc2c3c" stroke-width="1.0" stroke-dasharray="4 1.3 0.7 1.3" opacity="0.5"/>
<text x="329.5" y="16.4" font-size="9.6" font-family="'Liberation Serif','Times New Roman',serif" text-anchor="start" fill="#1a1a1a" stroke="#1a1a1a" stroke-width="0.28" >Traditional control</text>
<text x="333.7" y="28.2" font-size="9.5" font-family="'Liberation Serif','Times New Roman',serif" text-anchor="start" fill="#1a1a1a" stroke="#1a1a1a" stroke-width="0.28" >Fan wing control</text>
<text x="275.7" y="179" font-size="12.3" font-family="'Liberation Sans',Arial,sans-serif" text-anchor="middle" fill="#1a1a1a" stroke="#1a1a1a" stroke-width="0.35" >(c)</text>
<line x1="345.5" y1="202" x2="345.5" y2="374" stroke="#e6e6e6" stroke-width="1" />
<line x1="387.5" y1="202" x2="387.5" y2="374" stroke="#e6e6e6" stroke-width="1" />
<line x1="430.5" y1="202" x2="430.5" y2="374" stroke="#e6e6e6" stroke-width="1" />
<line x1="472.5" y1="202" x2="472.5" y2="374" stroke="#e6e6e6" stroke-width="1" />
<line x1="303" y1="226.5" x2="515" y2="226.5" stroke="#d6d6d6" stroke-width="1" stroke-dasharray="1 1" />
<line x1="303" y1="250.5" x2="515" y2="250.5" stroke="#d6d6d6" stroke-width="1" stroke-dasharray="1 1" />
<line x1="303" y1="275.5" x2="515" y2="275.5" stroke="#d6d6d6" stroke-width="1" stroke-dasharray="1 1" />
<line x1="303" y1="300.5" x2="515" y2="300.5" stroke="#d6d6d6" stroke-width="1" stroke-dasharray="1 1" />
<line x1="303" y1="324.5" x2="515" y2="324.5" stroke="#d6d6d6" stroke-width="1" stroke-dasharray="1 1" />
<line x1="303" y1="349.5" x2="515" y2="349.5" stroke="#d6d6d6" stroke-width="1" stroke-dasharray="1 1" />
<clipPath id="c302201"><rect x="302.5" y="201.6" width="213" height="172.6"/></clipPath>
<g clip-path="url(#c302201)">
<polyline points="303,300.23 325.2,300.23 325.6,249.93 326.2,270.64 326.8,280.5 327.3,287.9 328,304.17 328.8,296.28 330,298.75 333,300.23 368.9,300.23 369.2,346.09 369.7,312.56 370.4,308.12 371.5,305.65 373,303.19 375.5,301.21 378,300.23 379.9,300.23 380.3,254.37 380.9,275.57 381.5,290.37 382.2,302.69 383,296.28 385,300.23 400.3,300.23 400.7,249.93 401.3,275.57 402,292.83 402.8,304.17 403.5,297.76 406,300.23 411.3,300.23 411.7,247.96 412.2,275.57 412.9,295.3 413.5,305.16 414.3,298.26 416,300.23 431,300.23 431.4,340.67 431.9,307.13 432.6,304.67 434,302.2 436,300.72 438,300.23 446.4,300.23 446.7,342.15 447.5,341.16 448.1,298.75 449,296.78 450,300.23 460.1,300.23 460.5,262.26 461.3,264.23 461.8,303.19 462.8,299.24 464,300.23 487,300.23 487.3,343.63 488.1,342.15 488.7,298.75 489.4,297.27 490.5,300.23 515,300.23" fill="none" stroke="#3c3cdc" stroke-width="1.15" stroke-linejoin="round" />
<polyline points="303,300.23 325.5,300.23 325.9,218.37 326.4,315.02 326.8,300.23 368.6,300.23 368.9,296.28 369.3,327.35 369.7,300.23 370,300.23 379.9,300.23 380.3,235.13 380.7,319.95 381.1,300.23 400.3,300.23 400.7,218.86 401.1,316.5 401.5,300.23 411.3,300.23 411.7,236.61 412.1,319.95 412.5,300.23 430.8,300.23 431.1,296.28 431.5,310.09 431.9,300.23 432.2,300.23 446.1,300.23 446.4,280.5 446.8,363.35 447.2,300.23 460.1,300.23 460.5,226.75 460.9,339.68 461.3,300.23 486.9,300.23 487.3,281.98 487.7,358.91 488.1,300.23 515,300.23" fill="none" stroke="#dc2c3c" stroke-width="1.05" stroke-linejoin="round" stroke-dasharray="4 1.3 0.7 1.3" />
<line x1="302.5" y1="300.23" x2="515.5" y2="300.23" stroke="#8a2c4c" stroke-width="1.1" />
</g>
<rect x="302.5" y="201.6" width="213" height="172.6" fill="none" stroke="#7c7c7c" stroke-width="1.1"/>
<line x1="302.5" y1="374.2" x2="302.5" y2="371.7" stroke="#7c7c7c" stroke-width="0.9" />
<line x1="302.5" y1="201.6" x2="302.5" y2="204.1" stroke="#7c7c7c" stroke-width="0.9" />
<line x1="345.1" y1="374.2" x2="345.1" y2="371.7" stroke="#7c7c7c" stroke-width="0.9" />
<line x1="345.1" y1="201.6" x2="345.1" y2="204.1" stroke="#7c7c7c" stroke-width="0.9" />
<line x1="387.7" y1="374.2" x2="387.7" y2="371.7" stroke="#7c7c7c" stroke-width="0.9" />
<line x1="387.7" y1="201.6" x2="387.7" y2="204.1" stroke="#7c7c7c" stroke-width="0.9" />
<line x1="430.3" y1="374.2" x2="430.3" y2="371.7" stroke="#7c7c7c" stroke-width="0.9" />
<line x1="430.3" y1="201.6" x2="430.3" y2="204.1" stroke="#7c7c7c" stroke-width="0.9" />
<line x1="472.9" y1="374.2" x2="472.9" y2="371.7" stroke="#7c7c7c" stroke-width="0.9" />
<line x1="472.9" y1="201.6" x2="472.9" y2="204.1" stroke="#7c7c7c" stroke-width="0.9" />
<line x1="515.5" y1="374.2" x2="515.5" y2="371.7" stroke="#7c7c7c" stroke-width="0.9" />
<line x1="515.5" y1="201.6" x2="515.5" y2="204.1" stroke="#7c7c7c" stroke-width="0.9" />
<line x1="302.5" y1="201.6" x2="305" y2="201.6" stroke="#7c7c7c" stroke-width="0.9" />
<line x1="515.5" y1="201.6" x2="513" y2="201.6" stroke="#7c7c7c" stroke-width="0.9" />
<line x1="302.5" y1="226.26" x2="305" y2="226.26" stroke="#7c7c7c" stroke-width="0.9" />
<line x1="515.5" y1="226.26" x2="513" y2="226.26" stroke="#7c7c7c" stroke-width="0.9" />
<line x1="302.5" y1="250.91" x2="305" y2="250.91" stroke="#7c7c7c" stroke-width="0.9" />
<line x1="515.5" y1="250.91" x2="513" y2="250.91" stroke="#7c7c7c" stroke-width="0.9" />
<line x1="302.5" y1="275.57" x2="305" y2="275.57" stroke="#7c7c7c" stroke-width="0.9" />
<line x1="515.5" y1="275.57" x2="513" y2="275.57" stroke="#7c7c7c" stroke-width="0.9" />
<line x1="302.5" y1="300.23" x2="305" y2="300.23" stroke="#7c7c7c" stroke-width="0.9" />
<line x1="515.5" y1="300.23" x2="513" y2="300.23" stroke="#7c7c7c" stroke-width="0.9" />
<line x1="302.5" y1="324.89" x2="305" y2="324.89" stroke="#7c7c7c" stroke-width="0.9" />
<line x1="515.5" y1="324.89" x2="513" y2="324.89" stroke="#7c7c7c" stroke-width="0.9" />
<line x1="302.5" y1="349.54" x2="305" y2="349.54" stroke="#7c7c7c" stroke-width="0.9" />
<line x1="515.5" y1="349.54" x2="513" y2="349.54" stroke="#7c7c7c" stroke-width="0.9" />
<line x1="302.5" y1="374.2" x2="305" y2="374.2" stroke="#7c7c7c" stroke-width="0.9" />
<line x1="515.5" y1="374.2" x2="513" y2="374.2" stroke="#7c7c7c" stroke-width="0.9" />
<text x="302.2" y="205.9" font-size="9.3" font-family="'Liberation Serif','Times New Roman',serif" text-anchor="end" fill="#2c2c2c" stroke="#2c2c2c" stroke-width="0.15" >20</text>
<text x="302.2" y="230.56" font-size="9.3" font-family="'Liberation Serif','Times New Roman',serif" text-anchor="end" fill="#2c2c2c" stroke="#2c2c2c" stroke-width="0.15" >15</text>
<text x="302.2" y="255.21" font-size="9.3" font-family="'Liberation Serif','Times New Roman',serif" text-anchor="end" fill="#2c2c2c" stroke="#2c2c2c" stroke-width="0.15" >10</text>
<text x="302.2" y="279.87" font-size="9.3" font-family="'Liberation Serif','Times New Roman',serif" text-anchor="end" fill="#2c2c2c" stroke="#2c2c2c" stroke-width="0.15" >5</text>
<text x="302.2" y="304.53" font-size="9.3" font-family="'Liberation Serif','Times New Roman',serif" text-anchor="end" fill="#2c2c2c" stroke="#2c2c2c" stroke-width="0.15" >0</text>
<text x="302.2" y="329.19" font-size="9.3" font-family="'Liberation Serif','Times New Roman',serif" text-anchor="end" fill="#2c2c2c" stroke="#2c2c2c" stroke-width="0.15" >-5</text>
<text x="302.2" y="353.84" font-size="9.3" font-family="'Liberation Serif','Times New Roman',serif" text-anchor="end" fill="#2c2c2c" stroke="#2c2c2c" stroke-width="0.15" >-10</text>
<text x="302.2" y="378.5" font-size="9.3" font-family="'Liberation Serif','Times New Roman',serif" text-anchor="end" fill="#2c2c2c" stroke="#2c2c2c" stroke-width="0.15" >-15</text>
<text x="302.5" y="383.2" font-size="9.3" font-family="'Liberation Serif','Times New Roman',serif" text-anchor="middle" fill="#2c2c2c" stroke="#2c2c2c" stroke-width="0.15" >0</text>
<text x="345.1" y="383.2" font-size="9.3" font-family="'Liberation Serif','Times New Roman',serif" text-anchor="middle" fill="#2c2c2c" stroke="#2c2c2c" stroke-width="0.15" >200</text>
<text x="387.7" y="383.2" font-size="9.3" font-family="'Liberation Serif','Times New Roman',serif" text-anchor="middle" fill="#2c2c2c" stroke="#2c2c2c" stroke-width="0.15" >400</text>
<text x="430.3" y="383.2" font-size="9.3" font-family="'Liberation Serif','Times New Roman',serif" text-anchor="middle" fill="#2c2c2c" stroke="#2c2c2c" stroke-width="0.15" >600</text>
<text x="472.9" y="383.2" font-size="9.3" font-family="'Liberation Serif','Times New Roman',serif" text-anchor="middle" fill="#2c2c2c" stroke="#2c2c2c" stroke-width="0.15" >800</text>
<text x="511" y="383.2" font-size="9.3" font-family="'Liberation Serif','Times New Roman',serif" text-anchor="middle" fill="#2c2c2c" stroke="#2c2c2c" stroke-width="0.15" >1000</text>
<text x="410.6" y="388.9" font-size="11.5" font-family="'Liberation Serif','Times New Roman',serif" text-anchor="middle" fill="#1a1a1a" stroke="#1a1a1a" stroke-width="0.28" >t/s</text>
<text x="288.2" y="289.2" font-size="10" font-family="'Liberation Sans',Arial,sans-serif" text-anchor="middle" fill="#1a1a1a" stroke="#1a1a1a" stroke-width="0.28" transform="rotate(-90 288.2 289.2)"><tspan font-family="'Liberation Serif','Times New Roman',serif" font-size="11.5">ω</tspan><tspan font-family="'Liberation Serif','Times New Roman',serif" font-size="7.5" dy="2.6">y</tspan><tspan dy="-1.2" font-size="10"> / °/s</tspan></text>
<rect x="304.4" y="348.3" width="101" height="25.1" fill="#fff" stroke="#7c7c7c" stroke-width="1.0"/>
<line x1="307.9" y1="354.8" x2="328.6" y2="354.8" stroke="#3c3cdc" stroke-width="1.1" opacity="0.7"/>
<line x1="307.9" y1="366.3" x2="328.6" y2="366.3" stroke="#dc2c3c" stroke-width="1.0" stroke-dasharray="4 1.3 0.7 1.3" opacity="0.5"/>
<text x="330" y="358.4" font-size="9.55" font-family="'Liberation Serif','Times New Roman',serif" text-anchor="start" fill="#1a1a1a" stroke="#1a1a1a" stroke-width="0.28" >Traditional control</text>
<text x="333.8" y="369.6" font-size="9.4" font-family="'Liberation Serif','Times New Roman',serif" text-anchor="start" fill="#1a1a1a" stroke="#1a1a1a" stroke-width="0.28" >Fan wing control</text>
<text x="275.7" y="375.5" font-size="12.3" font-family="'Liberation Sans',Arial,sans-serif" text-anchor="middle" fill="#1a1a1a" stroke="#1a1a1a" stroke-width="0.35" >(d)</text>
<line x1="345.5" y1="398" x2="345.5" y2="570" stroke="#e6e6e6" stroke-width="1" />
<line x1="387.5" y1="398" x2="387.5" y2="570" stroke="#e6e6e6" stroke-width="1" />
<line x1="430.5" y1="398" x2="430.5" y2="570" stroke="#e6e6e6" stroke-width="1" />
<line x1="473.5" y1="398" x2="473.5" y2="570" stroke="#e6e6e6" stroke-width="1" />
<line x1="303" y1="426.5" x2="516" y2="426.5" stroke="#d6d6d6" stroke-width="1" stroke-dasharray="1 1" />
<line x1="303" y1="455.5" x2="516" y2="455.5" stroke="#d6d6d6" stroke-width="1" stroke-dasharray="1 1" />
<line x1="303" y1="483.5" x2="516" y2="483.5" stroke="#d6d6d6" stroke-width="1" stroke-dasharray="1 1" />
<line x1="303" y1="512.5" x2="516" y2="512.5" stroke="#d6d6d6" stroke-width="1" stroke-dasharray="1 1" />
<line x1="303" y1="541.5" x2="516" y2="541.5" stroke="#d6d6d6" stroke-width="1" stroke-dasharray="1 1" />
<clipPath id="c302397"><rect x="302.5" y="397.5" width="213.6" height="172.8"/></clipPath>
<g clip-path="url(#c302397)">
<polyline points="303,483.9 324.3,483.9 325.3,518.46 326,538.33 327,512.7 328,482.46 328.6,481.02 329.2,486.78 331,485.63 334,484.48 337,483.9 369.3,483.9 369.7,437.82 370.1,470.94 370.8,476.7 372,480.16 374,482.46 377,483.9 379.6,483.9 380,518.46 380.5,541.5 381.3,506.94 382,483.9 382.8,480.16 383.5,483.9 385,483.9 399.9,483.9 400.3,512.7 400.8,532.28 401.8,506.94 402.4,483.9 403,481.02 404,483.9 411.2,483.9 411.6,512.7 412.1,532.28 413,498.3 413.5,479.58 414.5,483.9 431.4,483.9 431.8,440.41 432.2,470.94 433,476.99 434.5,480.73 436.5,483.04 439,483.9 446.3,483.9 446.6,438.97 448.8,442.14 449.3,486.2 450.5,484.76 452,483.9 460.4,483.9 460.7,528.83 462,528.25 462.5,483.9 463.2,481.02 464,483.9 487.4,483.9 488.2,437.82 489.3,443.58 490,483.9 490.6,486.78 491.5,483.9 515.6,483.9" fill="none" stroke="#3c3cdc" stroke-width="1.15" stroke-linejoin="round" />
<polyline points="303,483.9 324.8,483.9 325.5,548.99 326.5,512.7 327.3,483.9 369.3,483.9 369.7,441.56 370.2,469.5 371,483.9 379.8,483.9 380.4,541.5 381.2,498.3 381.8,483.9 400,483.9 400.7,548.12 401.4,498.3 402,483.9 411.4,483.9 412,541.5 412.7,498.3 413.2,483.9 431.4,483.9 431.8,472.38 432.3,483.9 446.5,483.9 446.8,425.44 447.6,449.34 448.5,483.9 460.4,483.9 460.9,536.03 461.6,498.3 462.2,483.9 487.7,483.9 488.2,426.3 489.1,455.1 489.8,483.9 515.6,483.9" fill="none" stroke="#dc2c3c" stroke-width="1.05" stroke-linejoin="round" stroke-dasharray="4 1.3 0.7 1.3" />
<line x1="302.5" y1="483.9" x2="516.1" y2="483.9" stroke="#6a5872" stroke-width="1.1" />
</g>
<rect x="302.5" y="397.5" width="213.6" height="172.8" fill="none" stroke="#7c7c7c" stroke-width="1.1"/>
<line x1="302.5" y1="570.3" x2="302.5" y2="567.8" stroke="#7c7c7c" stroke-width="0.9" />
<line x1="302.5" y1="397.5" x2="302.5" y2="400" stroke="#7c7c7c" stroke-width="0.9" />
<line x1="345.22" y1="570.3" x2="345.22" y2="567.8" stroke="#7c7c7c" stroke-width="0.9" />
<line x1="345.22" y1="397.5" x2="345.22" y2="400" stroke="#7c7c7c" stroke-width="0.9" />
<line x1="387.94" y1="570.3" x2="387.94" y2="567.8" stroke="#7c7c7c" stroke-width="0.9" />
<line x1="387.94" y1="397.5" x2="387.94" y2="400" stroke="#7c7c7c" stroke-width="0.9" />
<line x1="430.66" y1="570.3" x2="430.66" y2="567.8" stroke="#7c7c7c" stroke-width="0.9" />
<line x1="430.66" y1="397.5" x2="430.66" y2="400" stroke="#7c7c7c" stroke-width="0.9" />
<line x1="473.38" y1="570.3" x2="473.38" y2="567.8" stroke="#7c7c7c" stroke-width="0.9" />
<line x1="473.38" y1="397.5" x2="473.38" y2="400" stroke="#7c7c7c" stroke-width="0.9" />
<line x1="516.1" y1="570.3" x2="516.1" y2="567.8" stroke="#7c7c7c" stroke-width="0.9" />
<line x1="516.1" y1="397.5" x2="516.1" y2="400" stroke="#7c7c7c" stroke-width="0.9" />
<line x1="302.5" y1="397.5" x2="305" y2="397.5" stroke="#7c7c7c" stroke-width="0.9" />
<line x1="516.1" y1="397.5" x2="513.6" y2="397.5" stroke="#7c7c7c" stroke-width="0.9" />
<line x1="302.5" y1="426.3" x2="305" y2="426.3" stroke="#7c7c7c" stroke-width="0.9" />
<line x1="516.1" y1="426.3" x2="513.6" y2="426.3" stroke="#7c7c7c" stroke-width="0.9" />
<line x1="302.5" y1="455.1" x2="305" y2="455.1" stroke="#7c7c7c" stroke-width="0.9" />
<line x1="516.1" y1="455.1" x2="513.6" y2="455.1" stroke="#7c7c7c" stroke-width="0.9" />
<line x1="302.5" y1="483.9" x2="305" y2="483.9" stroke="#7c7c7c" stroke-width="0.9" />
<line x1="516.1" y1="483.9" x2="513.6" y2="483.9" stroke="#7c7c7c" stroke-width="0.9" />
<line x1="302.5" y1="512.7" x2="305" y2="512.7" stroke="#7c7c7c" stroke-width="0.9" />
<line x1="516.1" y1="512.7" x2="513.6" y2="512.7" stroke="#7c7c7c" stroke-width="0.9" />
<line x1="302.5" y1="541.5" x2="305" y2="541.5" stroke="#7c7c7c" stroke-width="0.9" />
<line x1="516.1" y1="541.5" x2="513.6" y2="541.5" stroke="#7c7c7c" stroke-width="0.9" />
<line x1="302.5" y1="570.3" x2="305" y2="570.3" stroke="#7c7c7c" stroke-width="0.9" />
<line x1="516.1" y1="570.3" x2="513.6" y2="570.3" stroke="#7c7c7c" stroke-width="0.9" />
<text x="302.2" y="401.5" font-size="9.3" font-family="'Liberation Serif','Times New Roman',serif" text-anchor="end" fill="#2c2c2c" stroke="#2c2c2c" stroke-width="0.15" >30</text>
<text x="302.2" y="430.3" font-size="9.3" font-family="'Liberation Serif','Times New Roman',serif" text-anchor="end" fill="#2c2c2c" stroke="#2c2c2c" stroke-width="0.15" >20</text>
<text x="302.2" y="459.1" font-size="9.3" font-family="'Liberation Serif','Times New Roman',serif" text-anchor="end" fill="#2c2c2c" stroke="#2c2c2c" stroke-width="0.15" >10</text>
<text x="302.2" y="487.9" font-size="9.3" font-family="'Liberation Serif','Times New Roman',serif" text-anchor="end" fill="#2c2c2c" stroke="#2c2c2c" stroke-width="0.15" >0</text>
<text x="302.2" y="516.7" font-size="9.3" font-family="'Liberation Serif','Times New Roman',serif" text-anchor="end" fill="#2c2c2c" stroke="#2c2c2c" stroke-width="0.15" >-10</text>
<text x="302.2" y="545.5" font-size="9.3" font-family="'Liberation Serif','Times New Roman',serif" text-anchor="end" fill="#2c2c2c" stroke="#2c2c2c" stroke-width="0.15" >-20</text>
<text x="302.2" y="574.3" font-size="9.3" font-family="'Liberation Serif','Times New Roman',serif" text-anchor="end" fill="#2c2c2c" stroke="#2c2c2c" stroke-width="0.15" >-30</text>
<text x="302.5" y="578.6" font-size="9.3" font-family="'Liberation Serif','Times New Roman',serif" text-anchor="middle" fill="#2c2c2c" stroke="#2c2c2c" stroke-width="0.15" >0</text>
<text x="345.22" y="578.6" font-size="9.3" font-family="'Liberation Serif','Times New Roman',serif" text-anchor="middle" fill="#2c2c2c" stroke="#2c2c2c" stroke-width="0.15" >200</text>
<text x="387.94" y="578.6" font-size="9.3" font-family="'Liberation Serif','Times New Roman',serif" text-anchor="middle" fill="#2c2c2c" stroke="#2c2c2c" stroke-width="0.15" >400</text>
<text x="430.66" y="578.6" font-size="9.3" font-family="'Liberation Serif','Times New Roman',serif" text-anchor="middle" fill="#2c2c2c" stroke="#2c2c2c" stroke-width="0.15" >600</text>
<text x="473.38" y="578.6" font-size="9.3" font-family="'Liberation Serif','Times New Roman',serif" text-anchor="middle" fill="#2c2c2c" stroke="#2c2c2c" stroke-width="0.15" >800</text>
<text x="511" y="578.6" font-size="9.3" font-family="'Liberation Serif','Times New Roman',serif" text-anchor="middle" fill="#2c2c2c" stroke="#2c2c2c" stroke-width="0.15" >1000</text>
<text x="411" y="584.8" font-size="11.5" font-family="'Liberation Serif','Times New Roman',serif" text-anchor="middle" fill="#1a1a1a" stroke="#1a1a1a" stroke-width="0.28" >t/s</text>
<text x="287.5" y="483.9" font-size="11.5" font-family="'Liberation Serif','Times New Roman',serif" text-anchor="middle" fill="#1a1a1a" stroke="#1a1a1a" stroke-width="0.28" transform="rotate(-90 287.5 483.9)" >γ<tspan dy="1.8">/°</tspan></text>
<rect x="304.2" y="405.4" width="95.8" height="23.8" fill="#fff" stroke="#7c7c7c" stroke-width="1.0"/>
<line x1="305.4" y1="411.2" x2="325" y2="411.2" stroke="#3c3cdc" stroke-width="1.1" opacity="0.7"/>
<line x1="305.4" y1="423.9" x2="325" y2="423.9" stroke="#dc2c3c" stroke-width="1.0" stroke-dasharray="4 1.3 0.7 1.3" opacity="0.5"/>
<text x="326.2" y="414.6" font-size="9.4" font-family="'Liberation Serif','Times New Roman',serif" text-anchor="start" fill="#1a1a1a" stroke="#1a1a1a" stroke-width="0.28" >Traditional control</text>
<text x="329.6" y="426.6" font-size="9.3" font-family="'Liberation Serif','Times New Roman',serif" text-anchor="start" fill="#1a1a1a" stroke="#1a1a1a" stroke-width="0.28" >Fan wing control</text>
<text x="275.7" y="572.5" font-size="12.3" font-family="'Liberation Sans',Arial,sans-serif" text-anchor="middle" fill="#1a1a1a" stroke="#1a1a1a" stroke-width="0.35" >(e)</text>
</svg>
</body></html>
